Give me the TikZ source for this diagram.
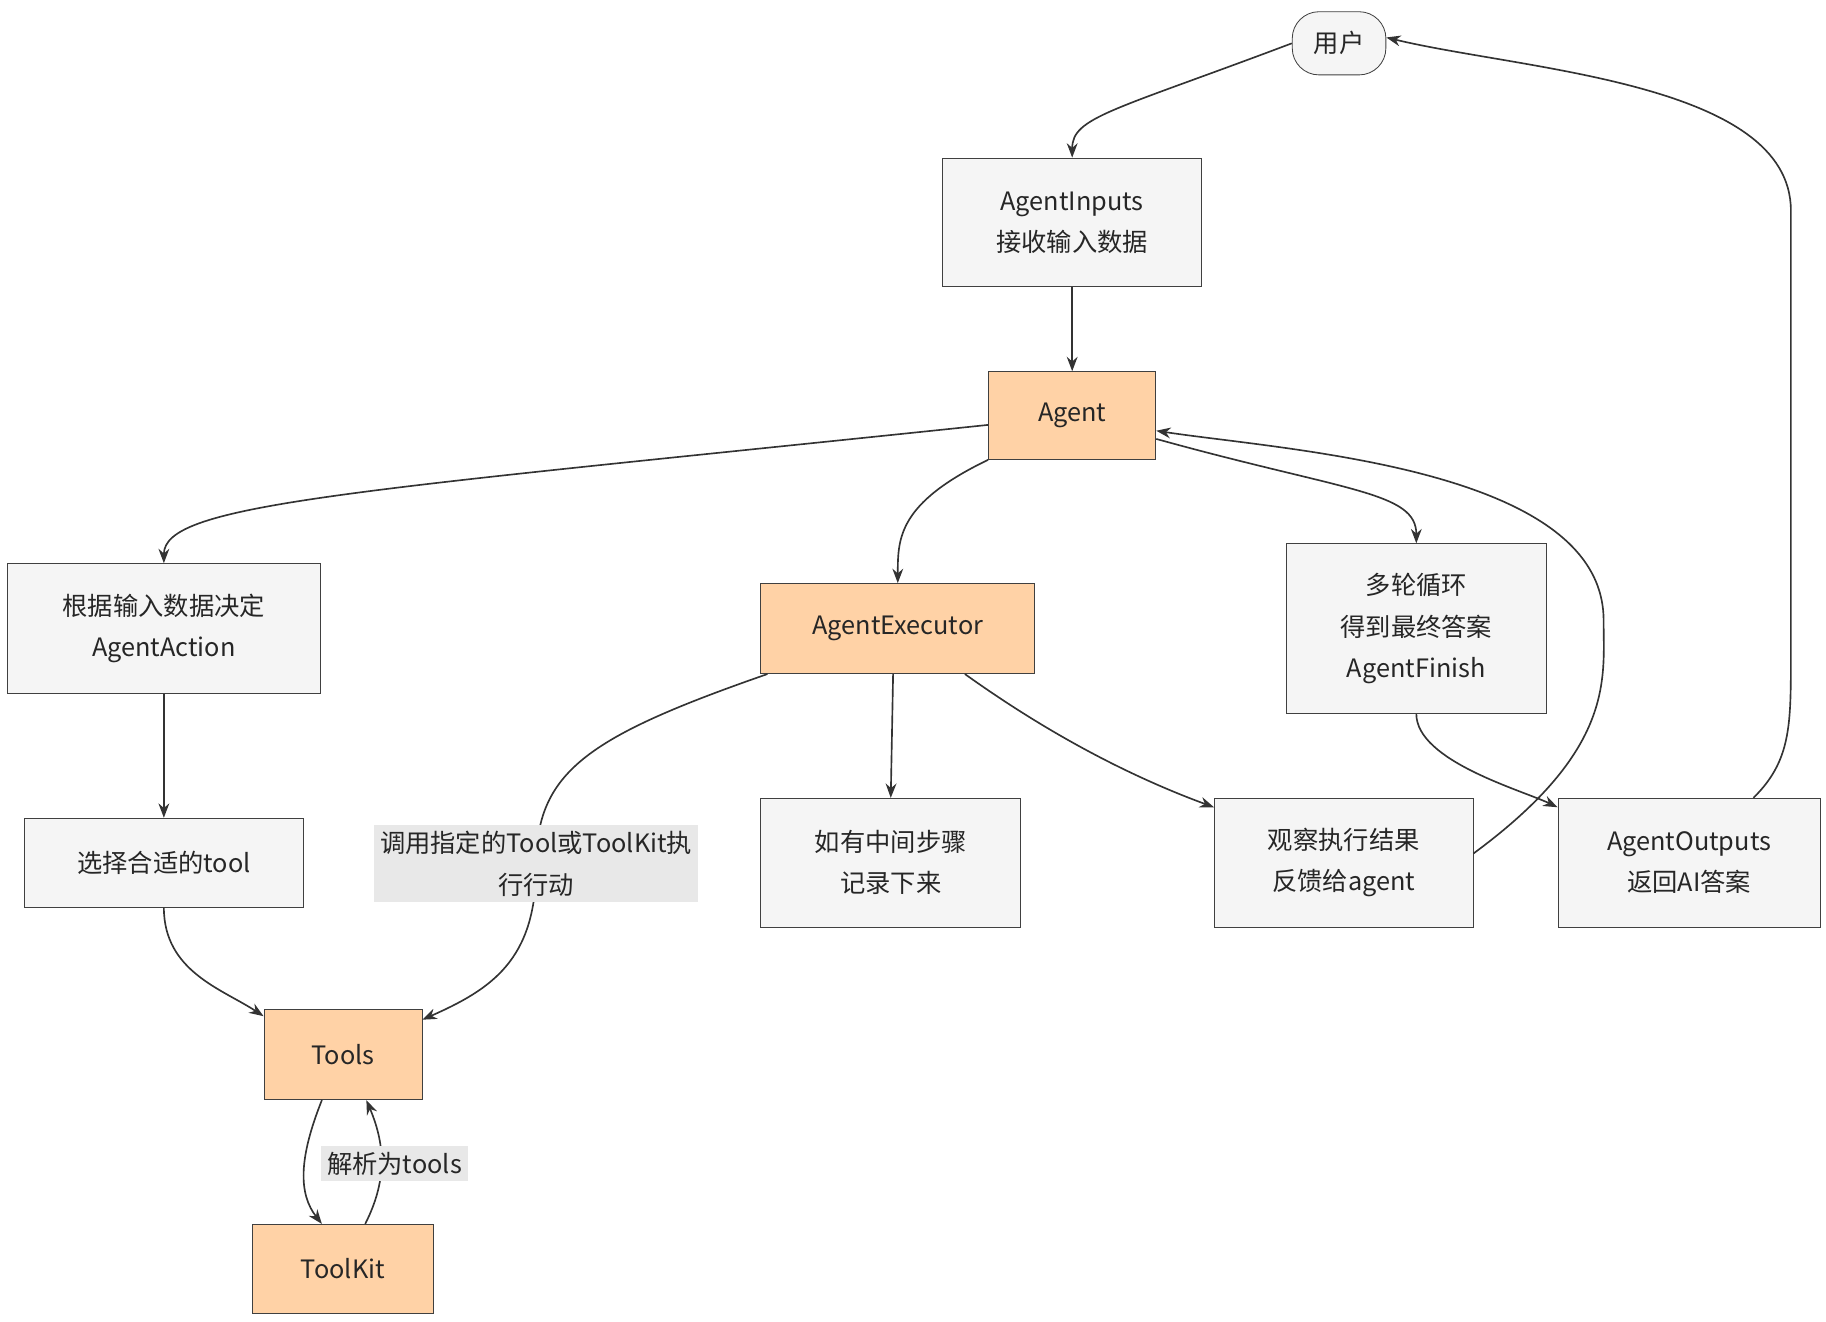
\documentclass[tikz,border=0pt]{standalone}
\usepackage{fontspec}
\setmainfont{Noto Sans CJK SC}
\usetikzlibrary{arrows.meta}
\tikzset{
  box/.style = {rectangle, draw = black!75, fill = black!4, text centered, align = center, font = \fontsize{12.3}{20}\selectfont, text = black!85},
  core/.style = {box, fill = orange!35},
  lbl/.style = {fill = black!9, font = \fontsize{12.3}{20}\selectfont, align = center, text = black!85, inner sep = 3pt},
  link/.style = {draw = black!80, thick, -{Stealth[length=7pt]}}
}
\begin{document}
\begin{tikzpicture}[x=0.02cm, y=-0.02cm]
	\useasboundingbox (0,0) rectangle (1560,1129);
	\node (user)[box, rounded corners = 13pt, minimum width = 1.6cm, minimum height = 1.08cm] at (1144,37){用户};
	\node (inputs)[box, minimum width = 4.42cm, minimum height = 2.2cm] at (916,190){AgentInputs\\接收输入数据};
	\node (agent)[core, minimum width = 2.86cm, minimum height = 1.5cm] at (916,355){Agent};
	\node (action)[box, minimum width = 5.34cm, minimum height = 2.22cm] at (140,537){根据输入数据决定\\AgentAction};
	\node (exec)[core, minimum width = 4.68cm, minimum height = 1.54cm] at (767,537){AgentExecutor};
	\node (finish)[box, minimum width = 4.44cm, minimum height = 2.9cm] at (1210,537){多轮循环\\得到最终答案\\AgentFinish};
	\node (choose)[box, minimum width = 4.78cm, minimum height = 1.52cm] at (140,737){选择合适的tool};
	\node (record)[box, minimum width = 4.44cm, minimum height = 2.2cm] at (761,737){如有中间步骤\\记录下来};
	\node (observe)[box, minimum width = 4.42cm, minimum height = 2.2cm] at (1148,737){观察执行结果\\反馈给agent};
	\node (outputs)[box, minimum width = 4.48cm, minimum height = 2.2cm] at (1443,737){AgentOutputs\\返回AI答案};
	\node (tools)[core, minimum width = 2.7cm, minimum height = 1.54cm] at (293,901){Tools};
	\node (kit)[core, minimum width = 3.1cm, minimum height = 1.52cm] at (293,1084){ToolKit};

	\draw [link] (user.west) .. controls (950,95) and (916,100) .. (inputs.north);
	\draw [link] (inputs) -- (agent);
	\draw [link] ([yshift=-0.16cm]agent.west) .. controls (300,420) and (140,430) .. (action.north);
	\draw [link] (agent.south west) .. controls (767,430) and (767,460) .. (exec.north);
	\draw [link] ([yshift=-0.4cm]agent.east) .. controls (1150,420) and (1210,420) .. (finish.north);
	\draw [link] ([yshift=-0.95cm]observe.north east) .. controls (1380,640) and (1370,580) .. (1370,530) .. controls (1370,400) and (1100,385) .. ([yshift=-0.26cm]agent.east);
	\draw [link] (finish.south) .. controls (1210,650) and (1300,675) .. ([yshift=-0.16cm]outputs.north west);
	\draw [link] ([xshift=1.1cm]outputs.north) .. controls (1530,650) and (1530,620) .. (1530,560) -- (1530,180) .. controls (1530,70) and (1300,60) .. ([yshift=0.1cm]user.east);
	\draw [link] (action) -- (choose);
	\draw [link] (choose.south) .. controls (140,830) and (190,845) .. ([yshift=-0.12cm]tools.north west);
	\draw [link] ([xshift=0.12cm]exec.south west) .. controls (500,630) and (458,660) .. (458,740) .. controls (458,820) and (420,845) .. ([yshift=-0.18cm]tools.north east);
	\node (calllbl)[lbl] at (458,738){调用指定的Tool或ToolKit执\\行行动};
	\draw [link] ([xshift=-0.08cm]exec.south) -- (record.north);
	\draw [link] ([xshift=-1.2cm]exec.south east) .. controls (900,630) and (970,665) .. ([yshift=-0.16cm]observe.north west);
	\draw [link] ([xshift=-0.36cm]tools.south) .. controls (255,990) and (255,1020) .. ([xshift=-0.36cm]kit.north);
	\draw [link] ([xshift=0.38cm]kit.north) .. controls (330,1010) and (330,980) .. ([xshift=0.4cm]tools.south);
	\node (parselbl)[lbl] at (337,994){解析为tools};
\end{tikzpicture}
\end{document}
